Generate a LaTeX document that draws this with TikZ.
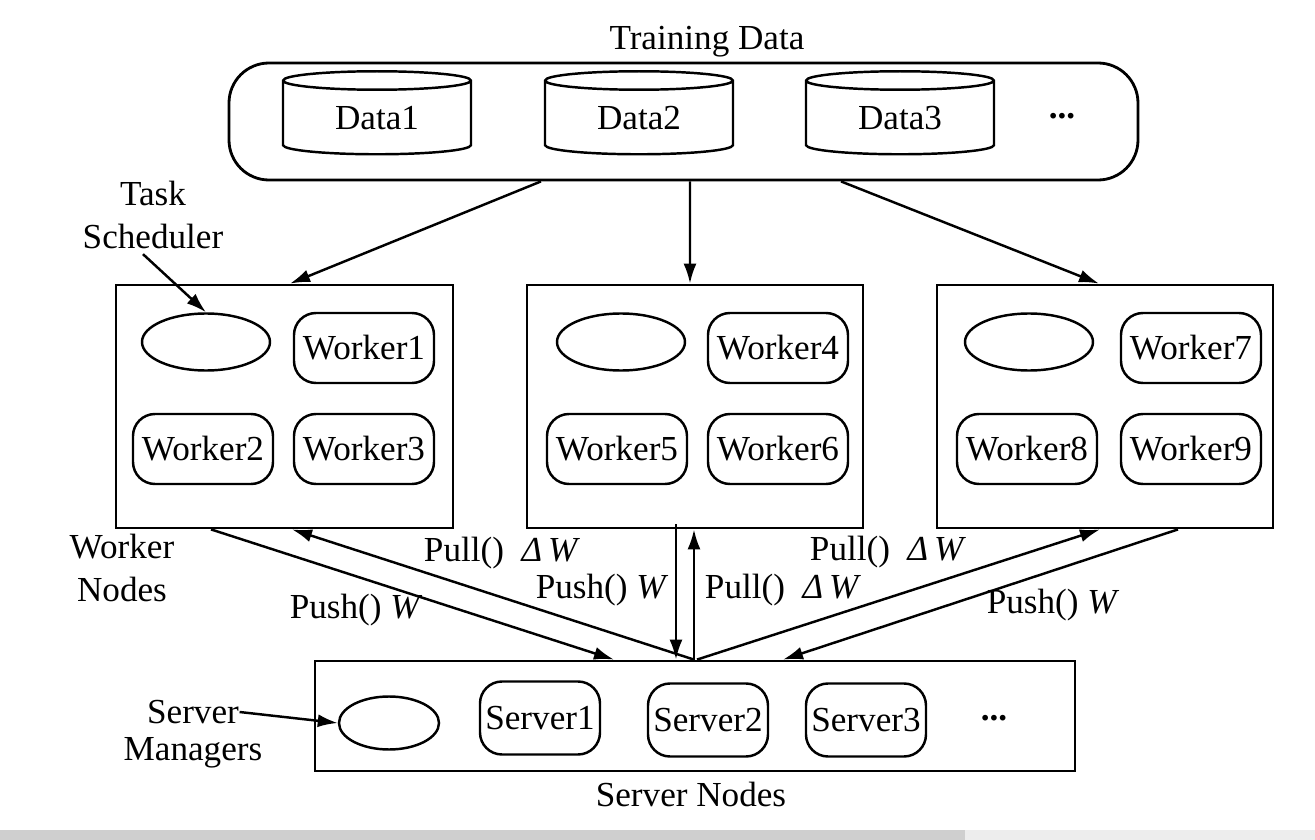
\documentclass[tikz,border=0pt]{standalone}
\usepackage{fontspec}
\setmainfont{Liberation Serif}
\usetikzlibrary{shapes.geometric,arrows.meta,positioning}

\tikzset{
  box/.style={draw, line width=0.8pt, inner sep=0pt},
  wrk/.style={draw, line width=0.7pt, rounded corners=2.2mm, minimum width=1.4cm, minimum height=0.7cm, inner sep=0pt},
  srv/.style={draw, line width=0.7pt, rounded corners=2.2mm, minimum width=1.2cm, minimum height=0.73cm, inner sep=0pt},
  sched/.style={draw, ellipse, line width=0.7pt, minimum width=1.28cm, minimum height=0.57cm, inner sep=0pt},
  db/.style={draw, cylinder, shape border rotate=90, aspect=0.22, line width=0.7pt, minimum width=1.88cm, minimum height=0.83cm, inner sep=0pt},
  arr/.style={-{Latex[length=2mm,width=1.3mm]}, line width=0.7pt},
  lbl/.style={inner sep=0pt, align=center}
}

\begin{document}
\begin{tikzpicture}[font=\fontsize{10}{12}\selectfont]
\useasboundingbox (0,0) rectangle (13.15,-8.40);
\fill[gray!38] (0,-8.30) rectangle (9.65,-8.40);
\fill[gray!14] (9.65,-8.30) rectangle (13.15,-8.40);

% training data
\node[box, rounded corners=4mm, minimum width=9.09cm, minimum height=1.17cm] (td) at (6.835,-1.215) {};
\node[lbl] (tdl) at (7.07,-0.42) {Training Data};
\node[db] (d1) at (3.77,-1.18) {Data1};
\node[db] (d2) at (6.39,-1.18) {Data2};
\node[db] (d3) at (9.00,-1.18) {Data3};
\node[lbl, font=\bfseries] (ddots) at (10.62,-1.16) {...};

% worker nodes
\node[box, minimum width=3.37cm, minimum height=2.43cm] (wb1) at (2.845,-4.065) {};
\node[box, minimum width=3.36cm, minimum height=2.43cm] (wb2) at (6.95,-4.065) {};
\node[box, minimum width=3.36cm, minimum height=2.43cm] (wb3) at (11.05,-4.065) {};

\node[sched] (ts1) at (2.06,-3.42) {};
\node[wrk] (w1) at (3.64,-3.48) {Worker1};
\node[wrk] (w2) at (2.03,-4.49) {Worker2};
\node[wrk] (w3) at (3.64,-4.49) {Worker3};

\node[sched] (ts2) at (6.21,-3.42) {};
\node[wrk] (w4) at (7.78,-3.48) {Worker4};
\node[wrk] (w5) at (6.17,-4.49) {Worker5};
\node[wrk] (w6) at (7.78,-4.49) {Worker6};

\node[sched] (ts3) at (10.29,-3.42) {};
\node[wrk] (w7) at (11.91,-3.48) {Worker7};
\node[wrk] (w8) at (10.27,-4.49) {Worker8};
\node[wrk] (w9) at (11.91,-4.49) {Worker9};

\node[lbl] (tsl) at (1.53,-2.15) {Task\\Scheduler};
\node[lbl] (wnl) at (1.22,-5.68) {Worker\\Nodes};

% server nodes
\node[box, minimum width=7.60cm, minimum height=1.10cm] (sb) at (6.95,-7.16) {};
\node[draw, ellipse, line width=0.7pt, minimum width=1.0cm, minimum height=0.53cm] (sm) at (3.89,-7.23) {};
\node[srv] (s1) at (5.40,-7.18) {Server1};
\node[srv] (s2) at (7.08,-7.20) {Server2};
\node[srv] (s3) at (8.66,-7.20) {Server3};
\node[lbl, font=\bfseries] (sdots) at (9.94,-7.18) {...};
\node[lbl] (snl) at (6.91,-7.94) {Server Nodes};
\node[lbl] (sml1) at (1.93,-7.12) {Server};
\node[lbl] (sml2) at (1.93,-7.53) {Managers};

% data flow
\draw[arr] ([xshift=-1.425cm]td.south) -- ([xshift=0.055cm]wb1.north);
\draw[arr] ([xshift=0.065cm]td.south) -- ([xshift=-0.05cm]wb2.north);
\draw[arr] ([xshift=1.575cm]td.south) -- ([xshift=-0.06cm]wb3.north);
\draw[arr] ([xshift=-0.1cm,yshift=-0.05cm]tsl.south) -- (ts1.north);
\draw[arr] (sml1.east) -- (sm.west);

% push / pull
\draw[arr] ([xshift=-0.735cm]wb1.south) -- ([xshift=-0.81cm]sb.north);
\draw[arr] ([xshift=-0.01cm]sb.north) -- ([xshift=0.075cm]wb1.south);
\draw[arr] ([xshift=-0.19cm,yshift=0.05cm]wb2.south) -- ([xshift=-0.19cm]sb.north);
\draw[arr] ([xshift=-0.01cm]sb.north) -- ([xshift=-0.01cm]wb2.south);
\draw[arr] ([xshift=0.02cm]sb.north) -- ([xshift=-0.05cm]wb3.south);
\draw[arr] ([xshift=0.73cm]wb3.south) -- ([xshift=0.88cm]sb.north);

\node[lbl] (pl1) at (5.02,-5.53) {Pull()\ \ \textit{Δ\,W}};
\node[lbl] (ps1) at (3.56,-6.10) {Push() \textit{W}};
\node[lbl] (ps2) at (6.02,-5.90) {Push() \textit{W}};
\node[lbl] (pl2) at (7.83,-5.90) {Pull()\ \ \textit{Δ\,W}};
\node[lbl] (pl3) at (8.88,-5.52) {Pull()\ \ \textit{Δ\,W}};
\node[lbl] (ps3) at (10.53,-6.05) {Push() \textit{W}};
\end{tikzpicture}
\end{document}
